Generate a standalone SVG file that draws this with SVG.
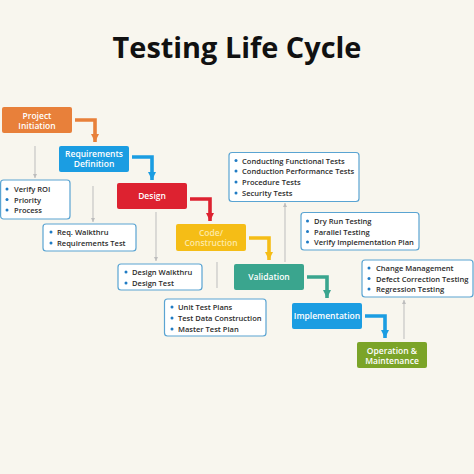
<svg xmlns="http://www.w3.org/2000/svg" width="474" height="474" viewBox="0 0 474 474">
<defs>
<style>
.title{font-family:"Open Sans","Noto Sans","Liberation Sans",sans-serif;font-weight:700;font-size:28.9px;fill:#111}
.nt{font-family:"Open Sans","Noto Sans","Liberation Sans",sans-serif;font-weight:600;font-size:8.5px;fill:#fff;text-anchor:middle}
.it{font-family:"Open Sans","Noto Sans","Liberation Sans",sans-serif;font-weight:600;font-size:7.55px;fill:#2b2b2b}
.ib{fill:#fff;stroke:#5aa4d2;stroke-width:1.2}
.bul{fill:#1f7bc4}
.flow{fill:none;stroke-width:3.6;stroke-linejoin:miter}
.gray{fill:none;stroke:#bdbdbd;stroke-width:1}
</style>
<marker id="m-or" viewBox="0 0 10 10" refX="10" refY="5" markerWidth="8" markerHeight="8" orient="auto" markerUnits="userSpaceOnUse"><path d="M0,0 L10,5 L0,10 z" fill="#e8803a"/></marker>
<marker id="m-bl" viewBox="0 0 10 10" refX="10" refY="5" markerWidth="8" markerHeight="8" orient="auto" markerUnits="userSpaceOnUse"><path d="M0,0 L10,5 L0,10 z" fill="#1b9de2"/></marker>
<marker id="m-rd" viewBox="0 0 10 10" refX="10" refY="5" markerWidth="8" markerHeight="8" orient="auto" markerUnits="userSpaceOnUse"><path d="M0,0 L10,5 L0,10 z" fill="#dd2230"/></marker>
<marker id="m-ye" viewBox="0 0 10 10" refX="10" refY="5" markerWidth="8" markerHeight="8" orient="auto" markerUnits="userSpaceOnUse"><path d="M0,0 L10,5 L0,10 z" fill="#f5bd16"/></marker>
<marker id="m-te" viewBox="0 0 10 10" refX="10" refY="5" markerWidth="8" markerHeight="8" orient="auto" markerUnits="userSpaceOnUse"><path d="M0,0 L10,5 L0,10 z" fill="#3aa58e"/></marker>
<marker id="m-gr" viewBox="0 0 10 10" refX="10" refY="5" markerWidth="4" markerHeight="4" orient="auto" markerUnits="userSpaceOnUse"><path d="M0,0 L10,5 L0,10 z" fill="#bdbdbd"/></marker>
</defs>
<rect width="474" height="474" fill="#f8f6ee"/>
<text class="title" x="237" y="58" text-anchor="middle">Testing Life Cycle</text>

<g id="connectors">
<path class="flow" stroke="#e8803a" d="M75,120 H95 V142" marker-end="url(#m-or)"/>
<path class="flow" stroke="#1b9de2" d="M132,157 H152 V180" marker-end="url(#m-bl)"/>
<path class="flow" stroke="#dd2230" d="M190,199 H210 V221" marker-end="url(#m-rd)"/>
<path class="flow" stroke="#f5bd16" d="M249,238 H269 V260" marker-end="url(#m-ye)"/>
<path class="flow" stroke="#3aa58e" d="M307,277 H327 V298" marker-end="url(#m-te)"/>
<path class="flow" stroke="#1b9de2" d="M365,316 H385 V338" marker-end="url(#m-bl)"/>
<path class="gray" d="M35,146 V178" marker-end="url(#m-gr)"/>
<path class="gray" d="M93,186 V222" marker-end="url(#m-gr)"/>
<path class="gray" d="M156,212 V261" marker-end="url(#m-gr)"/>
<path class="gray" d="M217,262 V288"/>
<path class="gray" d="M285,262 V203" marker-end="url(#m-gr)"/>
<path class="gray" d="M404,339 V300" marker-end="url(#m-gr)"/>
</g>

<g id="project-initiation">
<rect x="2" y="107" width="70" height="26" rx="2" fill="#e8803a"/>
<text class="nt" x="37" y="119">Project</text>
<text class="nt" x="37" y="128.5">Initiation</text>
</g>
<g id="requirements-definition">
<rect x="59" y="146" width="70" height="26" rx="2" fill="#1b9de2"/>
<text class="nt" x="94" y="157">Requirements</text>
<text class="nt" x="94" y="167">Definition</text>
</g>
<g id="design">
<rect x="117" y="183" width="70" height="26" rx="2" fill="#dd2230"/>
<text class="nt" x="152" y="199">Design</text>
</g>
<g id="code-construction">
<rect x="176" y="224" width="70" height="27" rx="2" fill="#f5bd16"/>
<text class="nt" x="211" y="236" style="fill:#fde9a6">Code/</text>
<text class="nt" x="211" y="246" style="fill:#fde9a6">Construction</text>
</g>
<g id="validation">
<rect x="234" y="264" width="70" height="26" rx="2" fill="#3aa58e"/>
<text class="nt" x="269" y="280">Validation</text>
</g>
<g id="implementation">
<rect x="292" y="303" width="70" height="26" rx="2" fill="#1b9de2"/>
<text class="nt" x="327" y="319">Implementation</text>
</g>
<g id="operation-maintenance">
<rect x="357" y="342" width="70" height="26" rx="2" fill="#7ba428"/>
<text class="nt" x="392" y="354">Operation &amp;</text>
<text class="nt" x="392" y="364">Maintenance</text>
</g>

<g id="info-initiation">
<rect class="ib" x="0.6" y="180" width="69.4" height="39" rx="3"/>
<circle class="bul" cx="7" cy="189" r="1.5"/><text class="it" x="14" y="192">Verify ROI</text>
<circle class="bul" cx="7" cy="199.5" r="1.5"/><text class="it" x="14" y="202.5">Priority</text>
<circle class="bul" cx="7" cy="210" r="1.5"/><text class="it" x="14" y="213">Process</text>
</g>
<g id="info-requirements">
<rect class="ib" x="43" y="224" width="93" height="27" rx="3"/>
<circle class="bul" cx="51" cy="232" r="1.5"/><text class="it" x="57" y="235">Req. Walkthru</text>
<circle class="bul" cx="51" cy="243" r="1.5"/><text class="it" x="57" y="246">Requirements Test</text>
</g>
<g id="info-design">
<rect class="ib" x="118" y="264" width="84" height="26" rx="3"/>
<circle class="bul" cx="126" cy="272" r="1.5"/><text class="it" x="132" y="275">Design Walkthru</text>
<circle class="bul" cx="126" cy="283" r="1.5"/><text class="it" x="132" y="286">Design Test</text>
</g>
<g id="info-code">
<rect class="ib" x="164.5" y="299" width="101.5" height="37" rx="3"/>
<circle class="bul" cx="172" cy="307" r="1.5"/><text class="it" x="178" y="310">Unit Test Plans</text>
<circle class="bul" cx="172" cy="318" r="1.5"/><text class="it" x="178" y="321">Test Data Construction</text>
<circle class="bul" cx="172" cy="329" r="1.5"/><text class="it" x="178" y="332">Master Test Plan</text>
</g>
<g id="info-validation">
<rect class="ib" x="229" y="152.5" width="130" height="49" rx="3"/>
<circle class="bul" cx="236" cy="160.5" r="1.5"/><text class="it" x="242" y="163.5">Conducting Functional Tests</text>
<circle class="bul" cx="236" cy="171" r="1.5"/><text class="it" x="242" y="174">Conduction Performance Tests</text>
<circle class="bul" cx="236" cy="182" r="1.5"/><text class="it" x="242" y="185">Procedure Tests</text>
<circle class="bul" cx="236" cy="193" r="1.5"/><text class="it" x="242" y="196">Security Tests</text>
</g>
<g id="info-implementation">
<rect class="ib" x="301" y="212.5" width="118" height="37.5" rx="3"/>
<circle class="bul" cx="307.5" cy="221" r="1.5"/><text class="it" x="314" y="224">Dry Run Testing</text>
<circle class="bul" cx="307.5" cy="231.5" r="1.5"/><text class="it" x="314" y="234.5">Parallel Testing</text>
<circle class="bul" cx="307.5" cy="242" r="1.5"/><text class="it" x="314" y="245">Verify Implementation Plan</text>
</g>
<g id="info-operation">
<rect class="ib" x="362" y="260" width="111" height="37" rx="3"/>
<circle class="bul" cx="369" cy="268" r="1.5"/><text class="it" x="376" y="271">Change Management</text>
<circle class="bul" cx="369" cy="278.5" r="1.5"/><text class="it" x="376" y="281.5">Defect Correction Testing</text>
<circle class="bul" cx="369" cy="289" r="1.5"/><text class="it" x="376" y="292">Regression Testing</text>
</g>
</svg>
